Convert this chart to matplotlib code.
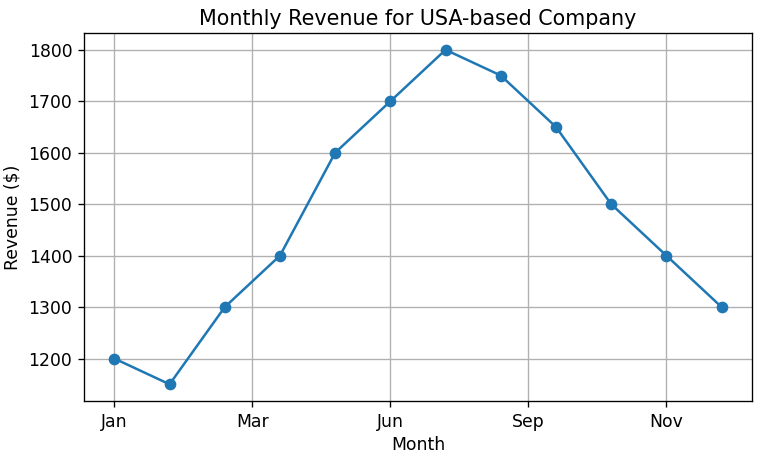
import numpy as np
import matplotlib.pyplot as plt

plt.rcParams['font.size'] = 10.35

months = ["Jan", "Feb", "Mar", "Apr", "May", "Jun",
          "Jul", "Aug", "Sep", "Oct", "Nov", "Dec"]
revenue = [1200, 1150, 1300, 1400, 1600, 1700,
           1800, 1750, 1650, 1500, 1400, 1300]
tick_pos = [0, 2.5, 5, 7.5, 10]
tick_labels = ["Jan", "Mar", "Jun", "Sep", "Nov"]

fig, ax = plt.subplots(figsize=(767 / 120, 453 / 120), dpi=120)
fig.subplots_adjust(left=0.1095, right=0.9804, top=0.927, bottom=0.1148)

x = np.arange(len(months))
ax.plot(x, revenue, marker='o', color='#1f77b4')
ax.set_xticks(tick_pos)
ax.set_xticklabels(tick_labels)
ax.grid(True)
ax.set_title("Monthly Revenue for USA-based Company", pad=5)
ax.set_xlabel("Month", labelpad=3)
ax.set_ylabel("Revenue ($)")

plt.savefig("out.png", dpi=120)
